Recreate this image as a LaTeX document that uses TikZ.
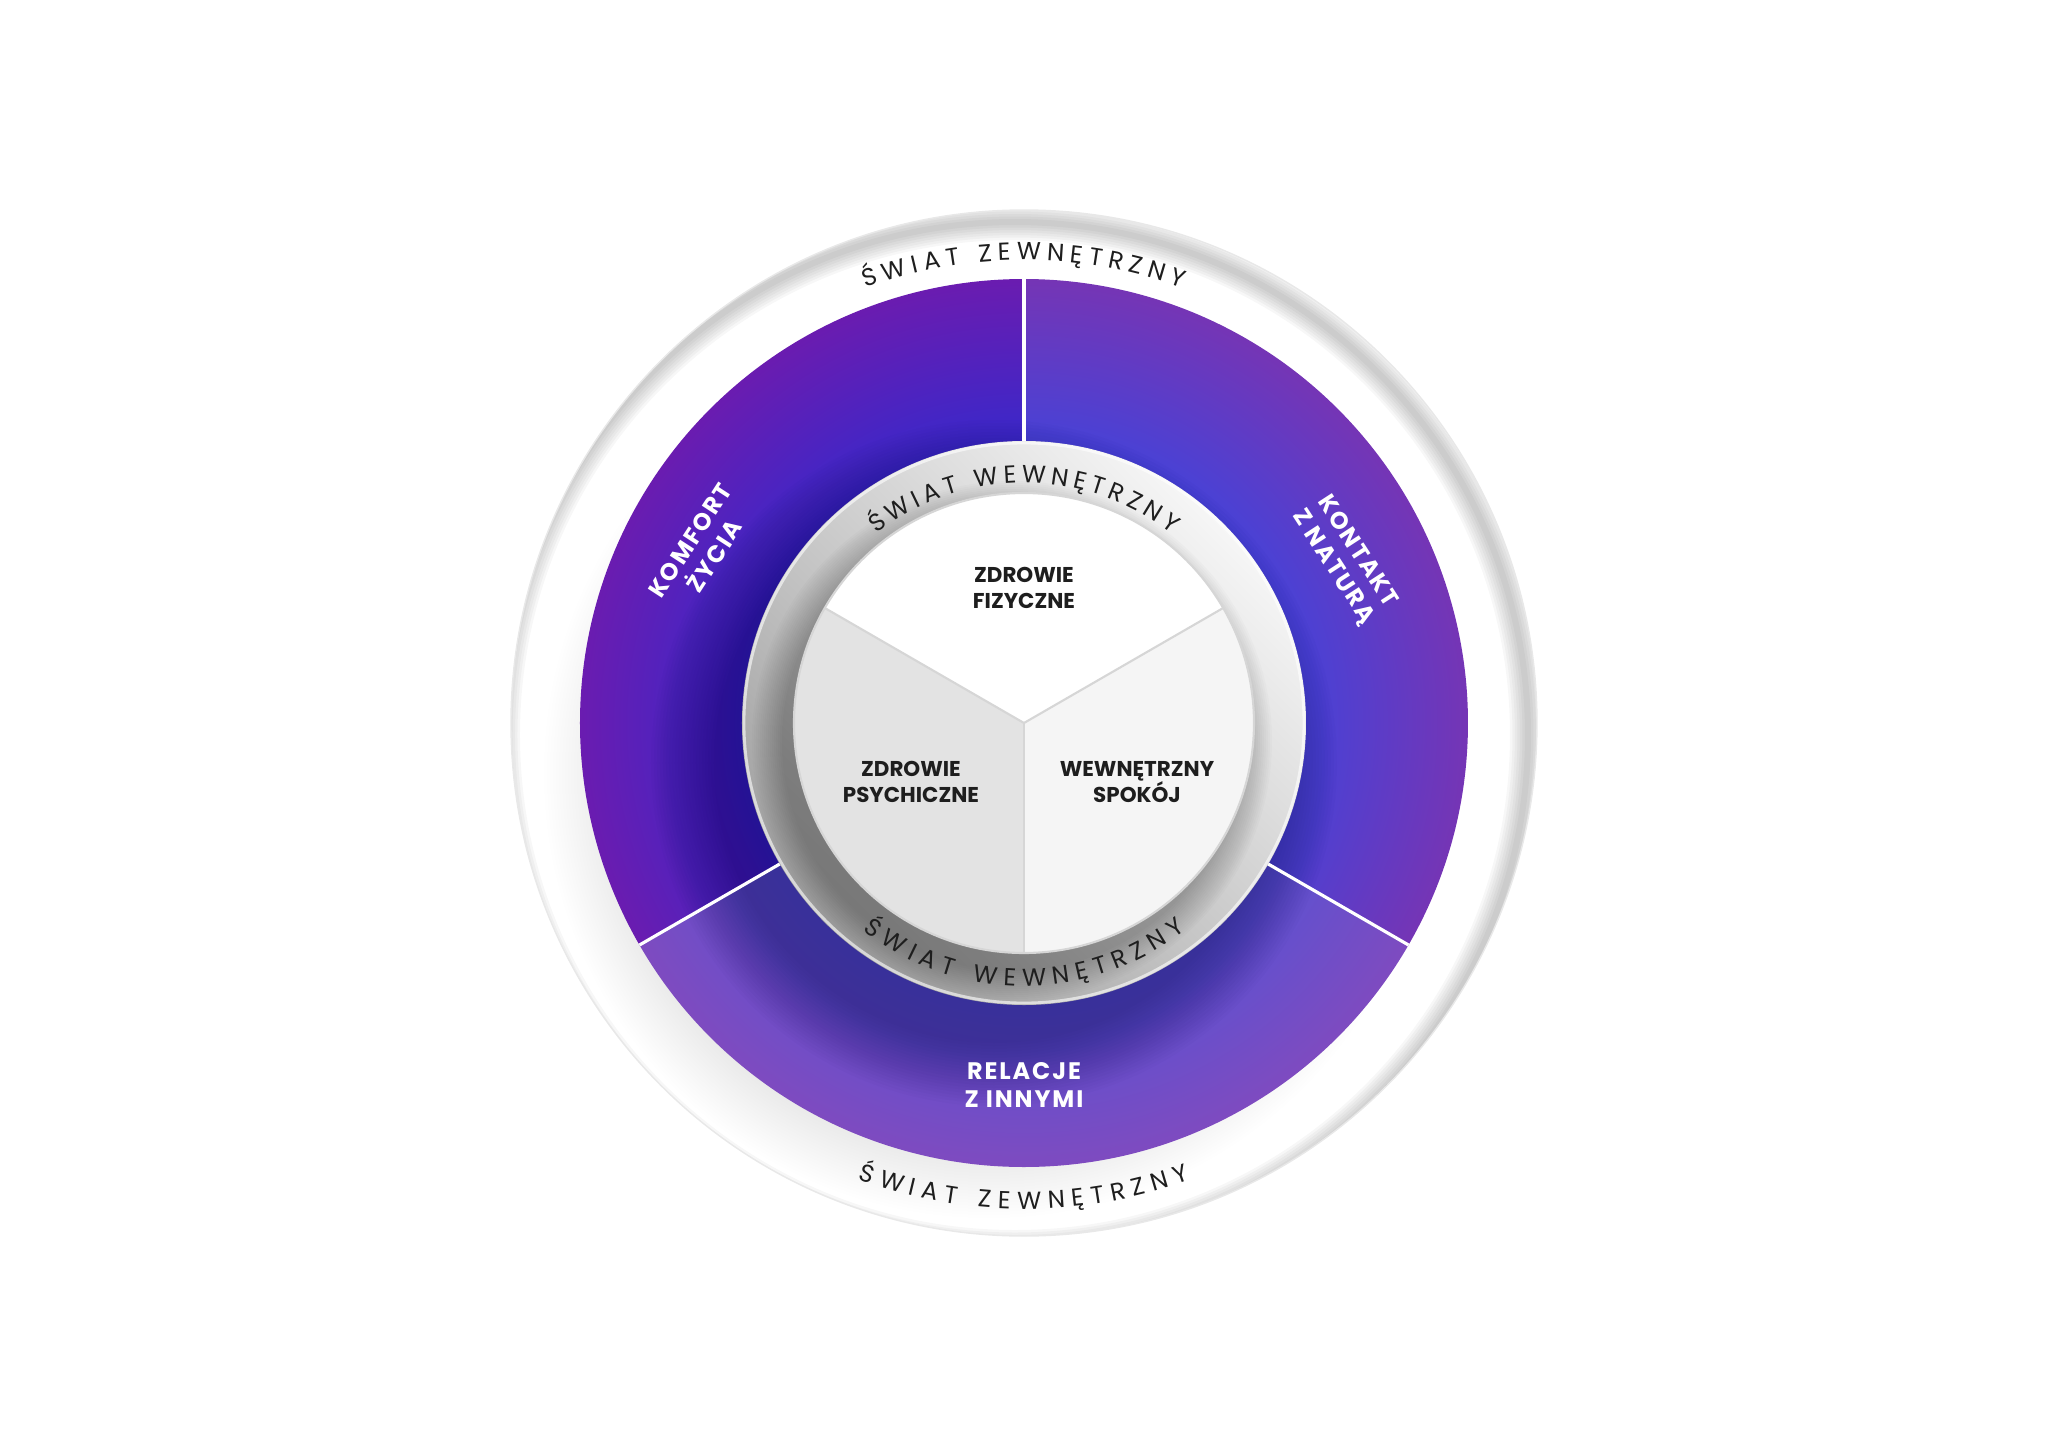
\documentclass[tikz,border=0pt]{standalone}
\usepackage{fontspec}
\setmainfont{Poppins}
\newfontfamily\swiatfont{Poppins}
\newfontfamily\trackfont{Poppins}[LetterSpace=8]
\usetikzlibrary{decorations.text}

\definecolor{komfortin}{HTML}{3A28CA}
\definecolor{komfortout}{HTML}{6A1CB0}
\definecolor{kontaktin}{HTML}{4842D6}
\definecolor{kontaktout}{HTML}{7535B5}
\definecolor{relacjein}{HTML}{5A52D2}
\definecolor{relacjeout}{HTML}{7E4BC0}
\definecolor{rimgrey}{HTML}{E8E8E8}
\definecolor{ringlight}{HTML}{F6F6F6}
\definecolor{ringdark}{HTML}{A0A0A0}
\definecolor{psychgrey}{HTML}{E3E3E3}
\definecolor{spokojgrey}{HTML}{F5F5F5}
\definecolor{pieline}{HTML}{D6D6D6}
\definecolor{navyshadow}{HTML}{10084A}
\definecolor{swiattext}{HTML}{1E1E1E}

% ring gradients: 15.9bp = inner edge (2.82), 25bp = outer edge (4.44)
\pgfdeclareradialshading{komfortshade}{\pgfpoint{0bp}{0bp}}{color(0bp)=(komfortin); color(15.9bp)=(komfortin); color(25bp)=(komfortout); color(50bp)=(komfortout)}
\pgfdeclareradialshading{kontaktshade}{\pgfpoint{0bp}{0bp}}{color(0bp)=(kontaktin); color(15.9bp)=(kontaktin); color(25bp)=(kontaktout); color(50bp)=(kontaktout)}
\pgfdeclareradialshading{relacjeshade}{\pgfpoint{0bp}{0bp}}{color(0bp)=(relacjein); color(15.9bp)=(relacjein); color(25bp)=(relacjeout); color(50bp)=(relacjeout)}

\begin{document}
\begin{tikzpicture}[
    swiat/.style={decorate, decoration={text along path, text align=fit to path,
        text={|\swiatfont\fontsize{7}{8}\selectfont\color{swiattext}|#1}}},
    ringlabel/.style={text=white, align=center, inner sep=0pt,
        font=\trackfont\bfseries\fontsize{6.8}{8.2}\selectfont},
    pielabel/.style={text=swiattext, align=center, inner sep=0pt,
        font=\bfseries\fontsize{6.1}{7.4}\selectfont}]
    \useasboundingbox (-10.24,-7.25) rectangle (10.24,7.23);

    % outer disc, rim darker to the upper right
    \begin{scope}
        \clip (0,0) circle (5.13);
        \foreach \w in {0.06,0.11,...,0.37}
            \draw[black, opacity=0.03, line width=\w cm] (-0.09,-0.12) circle (5.13);
        \foreach \r in {3.85,3.88,...,4.45}
            \fill[black, opacity=0.004] (-0.35,-0.5) circle (\r);
    \end{scope}
    \draw[rimgrey, line width=0.4pt] (0,0) circle (5.13);

    % purple ring
    \begin{scope}
        \clip (0,0) -- (90:4.44) arc (90:210:4.44) -- cycle;
        \shade[shading=komfortshade] (0,0) circle (4.44);
    \end{scope}
    \begin{scope}
        \clip (0,0) -- (-30:4.44) arc (-30:90:4.44) -- cycle;
        \shade[shading=kontaktshade] (0,0) circle (4.44);
    \end{scope}
    \begin{scope}
        \clip (0,0) -- (210:4.44) arc (210:330:4.44) -- cycle;
        \shade[shading=relacjeshade] (0,0) circle (4.44);
    \end{scope}
    \begin{scope}
        \clip (0,0) circle (4.44);
        \foreach \r in {2.8,2.83,...,3.45}
            \fill[navyshadow, opacity=0.02] (-0.3,-0.4) circle (\r);
    \end{scope}
    \foreach \a in {90,210,330}
        \draw[white, line width=0.9pt] (\a:2.7) -- (\a:4.44);

    % grey ring
    \shade[top color=ringlight, bottom color=ringdark, shading angle=-45] (0,0) circle (2.82);
    \begin{scope}
        \clip (0,0) circle (2.82);
        \foreach \r in {2.3,2.32,...,2.62}
            \fill[black, opacity=0.016] (-0.12,-0.18) circle (\r);
    \end{scope}
    \draw[white, opacity=0.6, line width=0.8pt] (0,0) circle (2.80);

    % inner pie
    \fill[white] (0,0) -- (30:2.30) arc (30:150:2.30) -- cycle;
    \fill[psychgrey] (0,0) -- (150:2.30) arc (150:270:2.30) -- cycle;
    \fill[spokojgrey] (0,0) -- (270:2.30) arc (270:390:2.30) -- cycle;
    \foreach \a in {30,150,270}
        \draw[pieline, line width=0.6pt] (0,0) -- (\a:2.30);
    \draw[pieline, line width=0.6pt] (0,0) circle (2.30);

    % arc texts
    \path[swiat={ŚWIAT ZEWNĘTRZNY}] (110:4.63) arc (110:70:4.63);
    \path[swiat={ŚWIAT ZEWNĘTRZNY}] (250:4.86) arc (250:290:4.86);
    \path[swiat={ŚWIAT WEWNĘTRZNY}] (128:2.40) arc (128:52:2.40);
    \path[swiat={ŚWIAT WEWNĘTRZNY}] (232:2.63) arc (232:308:2.63);

    \node[ringlabel, rotate=57] (komfort) at (151.5:3.66) {KOMFORT\\ŻYCIA};
    \node[ringlabel, rotate=-57] (kontakt) at (27:3.60) {KONTAKT\\Z NATURĄ};
    \node[ringlabel] (relacje) at (0,-3.62) {RELACJE\\Z INNYMI};

    \node[pielabel] (fizyczne) at (0,1.35) {ZDROWIE\\FIZYCZNE};
    \node[pielabel] (psychiczne) at (-1.13,-0.59) {ZDROWIE\\PSYCHICZNE};
    \node[pielabel] (spokoj) at (1.13,-0.59) {WEWNĘTRZNY\\SPOKÓJ};
\end{tikzpicture}
\end{document}
